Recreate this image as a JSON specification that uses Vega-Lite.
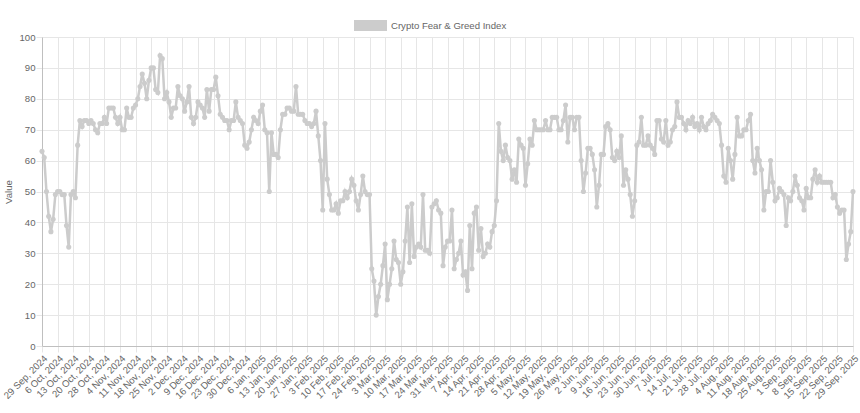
{
"$schema": "https://vega.github.io/schema/vega-lite/v6.json",
"width": 811, "height": 309,
"autosize": "none",
"padding": {"left": 42, "top": 37, "right": 7, "bottom": 67},
"background": "white",
"config": {"font": "Liberation Sans", "view": {"stroke": null}},
"data": {"values": [
{"d":"2024-09-29","v":63},{"d":"2024-09-30","v":61},
{"d":"2024-10-01","v":50},{"d":"2024-10-02","v":42},{"d":"2024-10-03","v":37},{"d":"2024-10-04","v":41},{"d":"2024-10-05","v":49},{"d":"2024-10-06","v":50},{"d":"2024-10-07","v":50},{"d":"2024-10-08","v":49},{"d":"2024-10-09","v":49},{"d":"2024-10-10","v":39},{"d":"2024-10-11","v":32},{"d":"2024-10-12","v":49},{"d":"2024-10-13","v":50},{"d":"2024-10-14","v":48},{"d":"2024-10-15","v":65},{"d":"2024-10-16","v":73},{"d":"2024-10-17","v":71},{"d":"2024-10-18","v":73},{"d":"2024-10-19","v":73},{"d":"2024-10-20","v":72},{"d":"2024-10-21","v":73},{"d":"2024-10-22","v":72},{"d":"2024-10-23","v":70},{"d":"2024-10-24","v":69},{"d":"2024-10-25","v":72},{"d":"2024-10-26","v":72},{"d":"2024-10-28","v":74},{"d":"2024-10-29","v":72},{"d":"2024-10-30","v":77},{"d":"2024-10-31","v":77},
{"d":"2024-11-01","v":77},{"d":"2024-11-02","v":74},{"d":"2024-11-03","v":72},{"d":"2024-11-04","v":74},{"d":"2024-11-05","v":70},{"d":"2024-11-06","v":70},{"d":"2024-11-07","v":77},{"d":"2024-11-08","v":74},{"d":"2024-11-09","v":74},{"d":"2024-11-10","v":77},{"d":"2024-11-11","v":78},{"d":"2024-11-12","v":80},{"d":"2024-11-13","v":84},{"d":"2024-11-14","v":88},{"d":"2024-11-15","v":85},{"d":"2024-11-16","v":80},{"d":"2024-11-17","v":86},{"d":"2024-11-18","v":90},{"d":"2024-11-19","v":90},{"d":"2024-11-20","v":83},{"d":"2024-11-21","v":82},{"d":"2024-11-22","v":94},{"d":"2024-11-23","v":93},{"d":"2024-11-24","v":80},{"d":"2024-11-25","v":82},{"d":"2024-11-26","v":79},{"d":"2024-11-27","v":74},{"d":"2024-11-28","v":77},{"d":"2024-11-29","v":77},{"d":"2024-11-30","v":84},
{"d":"2024-12-01","v":81},{"d":"2024-12-02","v":80},{"d":"2024-12-03","v":76},{"d":"2024-12-04","v":79},{"d":"2024-12-05","v":84},{"d":"2024-12-06","v":74},{"d":"2024-12-07","v":72},{"d":"2024-12-08","v":74},{"d":"2024-12-09","v":79},{"d":"2024-12-10","v":78},{"d":"2024-12-11","v":77},{"d":"2024-12-12","v":74},{"d":"2024-12-13","v":83},{"d":"2024-12-14","v":76},{"d":"2024-12-15","v":83},{"d":"2024-12-16","v":83},{"d":"2024-12-17","v":87},{"d":"2024-12-18","v":81},{"d":"2024-12-19","v":75},{"d":"2024-12-20","v":74},{"d":"2024-12-21","v":73},{"d":"2024-12-22","v":73},{"d":"2024-12-23","v":70},{"d":"2024-12-24","v":73},{"d":"2024-12-25","v":73},{"d":"2024-12-26","v":79},{"d":"2024-12-27","v":74},{"d":"2024-12-28","v":73},{"d":"2024-12-29","v":72},{"d":"2024-12-30","v":65},{"d":"2024-12-31","v":64},
{"d":"2025-01-01","v":66},{"d":"2025-01-02","v":70},{"d":"2025-01-03","v":74},{"d":"2025-01-04","v":73},{"d":"2025-01-05","v":72},{"d":"2025-01-06","v":76},{"d":"2025-01-07","v":78},{"d":"2025-01-08","v":70},{"d":"2025-01-09","v":69},{"d":"2025-01-10","v":50},{"d":"2025-01-11","v":69},{"d":"2025-01-12","v":62},{"d":"2025-01-13","v":62},{"d":"2025-01-14","v":61},{"d":"2025-01-15","v":70},{"d":"2025-01-16","v":75},{"d":"2025-01-17","v":75},{"d":"2025-01-18","v":77},{"d":"2025-01-19","v":77},{"d":"2025-01-20","v":76},{"d":"2025-01-21","v":76},{"d":"2025-01-22","v":84},{"d":"2025-01-23","v":75},{"d":"2025-01-24","v":75},{"d":"2025-01-25","v":75},{"d":"2025-01-26","v":73},{"d":"2025-01-27","v":72},{"d":"2025-01-28","v":72},{"d":"2025-01-29","v":71},{"d":"2025-01-30","v":72},{"d":"2025-01-31","v":76},
{"d":"2025-02-01","v":68},{"d":"2025-02-02","v":60},{"d":"2025-02-03","v":44},{"d":"2025-02-04","v":72},{"d":"2025-02-05","v":54},{"d":"2025-02-06","v":49},{"d":"2025-02-07","v":44},{"d":"2025-02-08","v":44},{"d":"2025-02-09","v":46},{"d":"2025-02-10","v":43},{"d":"2025-02-11","v":47},{"d":"2025-02-12","v":47},{"d":"2025-02-13","v":50},{"d":"2025-02-14","v":48},{"d":"2025-02-15","v":50},{"d":"2025-02-16","v":54},{"d":"2025-02-17","v":52},{"d":"2025-02-18","v":47},{"d":"2025-02-19","v":44},{"d":"2025-02-20","v":49},{"d":"2025-02-21","v":55},{"d":"2025-02-22","v":50},{"d":"2025-02-23","v":49},{"d":"2025-02-24","v":49},{"d":"2025-02-25","v":25},{"d":"2025-02-26","v":21},{"d":"2025-02-27","v":10},{"d":"2025-02-28","v":16},
{"d":"2025-03-01","v":20},{"d":"2025-03-02","v":26},{"d":"2025-03-03","v":33},{"d":"2025-03-04","v":15},{"d":"2025-03-05","v":20},{"d":"2025-03-06","v":25},{"d":"2025-03-07","v":34},{"d":"2025-03-08","v":28},{"d":"2025-03-09","v":27},{"d":"2025-03-10","v":20},{"d":"2025-03-11","v":24},{"d":"2025-03-12","v":34},{"d":"2025-03-13","v":45},{"d":"2025-03-14","v":27},{"d":"2025-03-15","v":46},{"d":"2025-03-16","v":29},{"d":"2025-03-17","v":32},{"d":"2025-03-18","v":33},{"d":"2025-03-19","v":32},{"d":"2025-03-20","v":49},{"d":"2025-03-21","v":31},{"d":"2025-03-22","v":31},{"d":"2025-03-23","v":30},{"d":"2025-03-24","v":45},{"d":"2025-03-25","v":46},{"d":"2025-03-26","v":47},{"d":"2025-03-27","v":44},{"d":"2025-03-28","v":43},{"d":"2025-03-29","v":26},{"d":"2025-03-30","v":32},{"d":"2025-03-31","v":34},
{"d":"2025-04-01","v":34},{"d":"2025-04-02","v":44},{"d":"2025-04-03","v":25},{"d":"2025-04-04","v":28},{"d":"2025-04-05","v":30},{"d":"2025-04-06","v":34},{"d":"2025-04-07","v":23},{"d":"2025-04-08","v":24},{"d":"2025-04-09","v":18},{"d":"2025-04-10","v":39},{"d":"2025-04-11","v":25},{"d":"2025-04-12","v":43},{"d":"2025-04-13","v":45},{"d":"2025-04-14","v":31},{"d":"2025-04-15","v":38},{"d":"2025-04-16","v":29},{"d":"2025-04-17","v":30},{"d":"2025-04-18","v":33},{"d":"2025-04-19","v":32},{"d":"2025-04-20","v":37},{"d":"2025-04-21","v":39},{"d":"2025-04-22","v":47},{"d":"2025-04-23","v":72},{"d":"2025-04-24","v":63},{"d":"2025-04-25","v":60},{"d":"2025-04-26","v":65},{"d":"2025-04-27","v":61},{"d":"2025-04-28","v":60},{"d":"2025-04-29","v":54},{"d":"2025-04-30","v":57},
{"d":"2025-05-01","v":53},{"d":"2025-05-02","v":67},{"d":"2025-05-03","v":65},{"d":"2025-05-04","v":64},{"d":"2025-05-05","v":52},{"d":"2025-05-06","v":59},{"d":"2025-05-07","v":67},{"d":"2025-05-08","v":65},{"d":"2025-05-09","v":73},{"d":"2025-05-10","v":70},{"d":"2025-05-11","v":70},{"d":"2025-05-12","v":70},{"d":"2025-05-13","v":70},{"d":"2025-05-14","v":73},{"d":"2025-05-15","v":70},{"d":"2025-05-16","v":70},{"d":"2025-05-17","v":74},{"d":"2025-05-18","v":74},{"d":"2025-05-19","v":74},{"d":"2025-05-20","v":70},{"d":"2025-05-21","v":70},{"d":"2025-05-22","v":73},{"d":"2025-05-23","v":78},{"d":"2025-05-24","v":66},{"d":"2025-05-25","v":74},{"d":"2025-05-26","v":74},{"d":"2025-05-27","v":70},{"d":"2025-05-28","v":74},{"d":"2025-05-29","v":74},{"d":"2025-05-30","v":60},{"d":"2025-05-31","v":50},
{"d":"2025-06-01","v":56},{"d":"2025-06-02","v":64},{"d":"2025-06-03","v":64},{"d":"2025-06-04","v":62},{"d":"2025-06-05","v":57},{"d":"2025-06-06","v":45},{"d":"2025-06-07","v":52},{"d":"2025-06-08","v":62},{"d":"2025-06-09","v":62},{"d":"2025-06-10","v":71},{"d":"2025-06-11","v":72},{"d":"2025-06-12","v":70},{"d":"2025-06-13","v":61},{"d":"2025-06-14","v":60},{"d":"2025-06-15","v":63},{"d":"2025-06-16","v":61},{"d":"2025-06-17","v":68},{"d":"2025-06-18","v":52},{"d":"2025-06-19","v":57},{"d":"2025-06-20","v":54},{"d":"2025-06-21","v":49},{"d":"2025-06-22","v":42},{"d":"2025-06-23","v":47},{"d":"2025-06-24","v":65},{"d":"2025-06-25","v":66},{"d":"2025-06-26","v":74},{"d":"2025-06-27","v":65},{"d":"2025-06-28","v":65},{"d":"2025-06-29","v":68},{"d":"2025-06-30","v":65},
{"d":"2025-07-01","v":64},{"d":"2025-07-02","v":62},{"d":"2025-07-03","v":73},{"d":"2025-07-04","v":73},{"d":"2025-07-05","v":67},{"d":"2025-07-06","v":66},{"d":"2025-07-07","v":73},{"d":"2025-07-08","v":65},{"d":"2025-07-09","v":66},{"d":"2025-07-10","v":70},{"d":"2025-07-11","v":71},{"d":"2025-07-12","v":79},{"d":"2025-07-13","v":74},{"d":"2025-07-14","v":74},{"d":"2025-07-15","v":72},{"d":"2025-07-16","v":70},{"d":"2025-07-17","v":73},{"d":"2025-07-18","v":72},{"d":"2025-07-19","v":74},{"d":"2025-07-20","v":71},{"d":"2025-07-21","v":72},{"d":"2025-07-22","v":70},{"d":"2025-07-23","v":74},{"d":"2025-07-24","v":71},{"d":"2025-07-25","v":70},{"d":"2025-07-26","v":72},{"d":"2025-07-27","v":73},{"d":"2025-07-28","v":75},{"d":"2025-07-29","v":74},{"d":"2025-07-30","v":73},{"d":"2025-07-31","v":72},
{"d":"2025-08-01","v":65},{"d":"2025-08-02","v":55},{"d":"2025-08-03","v":53},{"d":"2025-08-04","v":64},{"d":"2025-08-05","v":60},{"d":"2025-08-06","v":54},{"d":"2025-08-07","v":62},{"d":"2025-08-08","v":74},{"d":"2025-08-09","v":68},{"d":"2025-08-10","v":68},{"d":"2025-08-11","v":70},{"d":"2025-08-12","v":70},{"d":"2025-08-13","v":73},{"d":"2025-08-14","v":75},{"d":"2025-08-15","v":60},{"d":"2025-08-16","v":56},{"d":"2025-08-17","v":64},{"d":"2025-08-18","v":60},{"d":"2025-08-19","v":57},{"d":"2025-08-20","v":44},{"d":"2025-08-21","v":50},{"d":"2025-08-22","v":50},{"d":"2025-08-23","v":60},{"d":"2025-08-24","v":53},{"d":"2025-08-25","v":47},{"d":"2025-08-26","v":48},{"d":"2025-08-27","v":51},{"d":"2025-08-28","v":50},{"d":"2025-08-29","v":49},{"d":"2025-08-30","v":39},{"d":"2025-08-31","v":48},
{"d":"2025-09-01","v":47},{"d":"2025-09-02","v":50},{"d":"2025-09-03","v":55},{"d":"2025-09-04","v":52},{"d":"2025-09-05","v":48},{"d":"2025-09-06","v":47},{"d":"2025-09-07","v":44},{"d":"2025-09-08","v":51},{"d":"2025-09-09","v":48},{"d":"2025-09-10","v":48},{"d":"2025-09-11","v":54},{"d":"2025-09-12","v":57},{"d":"2025-09-13","v":53},{"d":"2025-09-14","v":55},{"d":"2025-09-15","v":53},{"d":"2025-09-16","v":53},{"d":"2025-09-17","v":53},{"d":"2025-09-18","v":53},{"d":"2025-09-19","v":53},{"d":"2025-09-20","v":48},{"d":"2025-09-21","v":49},{"d":"2025-09-22","v":45},{"d":"2025-09-23","v":43},{"d":"2025-09-24","v":44},{"d":"2025-09-25","v":44},{"d":"2025-09-26","v":28},{"d":"2025-09-27","v":33},{"d":"2025-09-28","v":37},{"d":"2025-09-29","v":50}
]},
"mark": {"type": "line", "strokeWidth": 2.5, "point": {"filled": true, "size": 26, "opacity": 1}},
"encoding": {
  "x": {"field": "d", "type": "ordinal", "scale": {"type": "point", "padding": 0},
    "axis": {"title": null,
      "values": ["2024-09-29","2024-10-06","2024-10-13","2024-10-20","2024-10-28","2024-11-04","2024-11-11","2024-11-18","2024-11-25","2024-12-02","2024-12-09","2024-12-16","2024-12-23","2024-12-30","2025-01-06","2025-01-13","2025-01-20","2025-01-27","2025-02-03","2025-02-10","2025-02-17","2025-02-24","2025-03-03","2025-03-10","2025-03-17","2025-03-24","2025-03-31","2025-04-07","2025-04-14","2025-04-21","2025-04-28","2025-05-05","2025-05-12","2025-05-19","2025-05-26","2025-06-02","2025-06-09","2025-06-16","2025-06-23","2025-06-30","2025-07-07","2025-07-14","2025-07-21","2025-07-28","2025-08-04","2025-08-11","2025-08-18","2025-08-25","2025-09-01","2025-09-08","2025-09-15","2025-09-22","2025-09-29"],
      "labelExpr": "utcFormat(toDate(datum.value), '%-d %b, %Y')",
      "labelAngle": -45, "labelFontSize": 9.6, "labelColor": "#666666", "labelPadding": 1,
      "grid": true, "gridColor": "#e6e6e6", "tickColor": "#e6e6e6", "tickSize": 6,
      "domainColor": "#bfbfbf", "labelOverlap": false}},
  "y": {"field": "v", "type": "quantitative", "scale": {"domain": [0, 100], "nice": false},
    "axis": {"title": "Value", "titleFontSize": 9.6, "titleFontWeight": "normal", "titleColor": "#666666", "titlePadding": 5,
      "values": [0,10,20,30,40,50,60,70,80,90,100],
      "labelFontSize": 9.6, "labelColor": "#666666", "labelPadding": 1,
      "gridColor": "#e6e6e6", "tickColor": "#e6e6e6", "tickSize": 6, "domainColor": "#bfbfbf"}},
  "color": {"datum": "Crypto Fear & Greed Index", "type": "nominal",
    "scale": {"range": ["#cccccc"]},
    "legend": {"title": null, "orient": "none", "legendX": 312, "legendY": -28, "padding": 0,
      "labelFontSize": 9.6, "labelColor": "#666666", "labelOffset": 4,
      "symbolType": "M-1,-0.33H1V0.33H-1Z", "symbolSize": 1089,
      "symbolFillColor": "#cccccc", "symbolStrokeColor": "#cccccc", "symbolStrokeWidth": 0,
      "encode": {"symbols": {"update": {"fill": {"value": "#cccccc"}, "stroke": {"value": "#cccccc"}, "shape": {"value": "M-1,-0.33H1V0.33H-1Z"}, "size": {"value": 1089}, "opacity": {"value": 1}}}}}}
}
}
